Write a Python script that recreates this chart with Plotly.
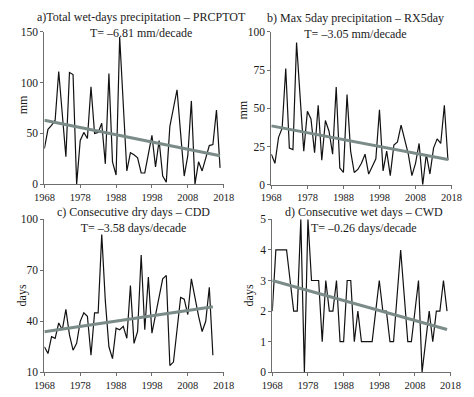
import plotly.graph_objects as go

# ---------------- data ----------------
years_50 = list(range(1968, 2018))   # 1968-2017
years_48 = list(range(1968, 2016))   # 1968-2015

prcptot = [35, 54, 58, 63, 111, 70, 27, 110, 108, 0,
           43, 51, 45, 96, 50, 51, 60, 20, 109, 22,
           9, 145, 75, 13, 31, 29, 26, 11, 11, 28,
           48, 17, 43, 8, 2, 57, 75, 93, 50, 8,
           28, 82, 0, 22, 13, 27, 38, 39, 73, 16]

rx5day = [20, 14, 31, 37, 76, 24, 23, 93, 57, 22,
          48, 43, 21, 52, 16, 42, 35, 20, 64, 11,
          8, 59, 22, 8, 10, 14, 20, 7, 12, 17,
          49, 9, 22, 6, 26, 28, 39, 30, 20, 6,
          14, 27, 0, 20, 7, 24, 30, 27, 52, 16]

cdd = [25, 21, 31, 30, 39, 35, 47, 32, 23, 27,
       40, 45, 43, 20, 45, 45, 91, 52, 25, 18,
       36, 35, 37, 30, 61, 27, 34, 79, 35, 66,
       33, 44, 54, 65, 67, 14, 16, 34, 54, 53,
       44, 65, 53, 43, 34, 40, 60, 20]

cwd = [2, 4, 4, 4, 4, 3, 2, 2, 5, 0,
       5, 3, 3, 3, 1, 3, 2, 2, 3, 1,
       1, 3, 3, 1, 2, 1, 1, 1, 1, 2,
       3, 2, 2, 1, 1, 2.5, 4, 2.5, 1, 1,
       2, 3, 0, 1, 2, 1, 2, 2, 3, 2]

trend_years_50 = [1968, 2017]
trend_years_48 = [1968, 2015]
trend_prcptot = [63, 28]
trend_rx5day = [38.5, 16.5]
trend_cdd = [33.8, 48.6]
trend_cwd = [3.0, 1.4]

titles = ["a)Total wet-days precipitation \u2013 PRCPTOT<br>T= \u20136.81 mm/decade",
          "b) Max 5day precipitation \u2013 RX5day<br>T= \u20133.05 mm/decade",
          "c) Consecutive dry days \u2013 CDD<br>T= \u20133.58 days/decade",
          "d) Consecutive wet days \u2013 CWD<br>T= \u20130.26 days/decade"]
ylabels = ["mm", "mm", "days", "days"]
xticks = [1968, 1978, 1988, 1998, 2008, 2018]
yticks_a = [0, 50, 100, 150]
yticks_b = [0, 25, 50, 75, 100]
yticks_c = [10, 40, 70, 100]
yticks_d = [0, 1, 2, 3, 4, 5]

# ---------------- layout geometry (pixels of the 474x397 window) --------
W, H = 474, 397
FONT = "Liberation Serif"
TXT = "#1a1a1a"
AX = "#6e6e6e"
TREND = "#7b8c88"


def fx(px):
    return px / W


def fy(py):
    return 1 - py / H


panels = [
    dict(x=years_50, y=prcptot, tx=trend_years_50, ty=trend_prcptot,
         px=(35, 223), py=(26.7, 183.7), yr=[0, 150], yt=yticks_a,
         title_xy=(137, 20), ylab_xy=(12, 102)),
    dict(x=years_50, y=rx5day, tx=trend_years_50, ty=trend_rx5day,
         px=(273, 462), py=(26.7, 184.3), yr=[0, 100], yt=yticks_b,
         title_xy=(361, 21), ylab_xy=(243, 107)),
    dict(x=years_48, y=cdd, tx=trend_years_48, ty=trend_cdd,
         px=(35, 223), py=(220, 377.7), yr=[10, 100], yt=yticks_c,
         title_xy=(128, 221), ylab_xy=(12, 298)),
    dict(x=years_50, y=cwd, tx=trend_years_50, ty=trend_cwd,
         px=(274, 461), py=(220, 377.7), yr=[0, 5], yt=yticks_d,
         title_xy=(370, 221), ylab_xy=(250, 298)),
]

fig = go.Figure()
annotations = []
for i, p in enumerate(panels):
    n = "" if i == 0 else str(i + 1)
    xa, ya = "x" + n, "y" + n
    fig.add_trace(go.Scatter(x=p["x"], y=p["y"], mode="lines",
                             line=dict(color="#111111", width=1.2),
                             xaxis=xa, yaxis=ya, showlegend=False,
                             hoverinfo="skip"))
    fig.add_trace(go.Scatter(x=p["tx"], y=p["ty"], mode="lines",
                             line=dict(color=TREND, width=3),
                             xaxis=xa, yaxis=ya, showlegend=False,
                             hoverinfo="skip"))
    axcommon = dict(showgrid=False, zeroline=False, showline=True,
                    linecolor=AX, linewidth=1, ticks="outside",
                    ticklen=3, tickcolor=AX, tickwidth=1)
    fig.update_layout(**{
        "xaxis" + n: dict(domain=[fx(p["px"][0]), fx(p["px"][1])],
                          range=[1968, 2018], tickvals=xticks,
                          anchor=ya,
                          tickfont=dict(family=FONT, size=10.5, color=TXT),
                          **axcommon),
        "yaxis" + n: dict(domain=[fy(p["py"][1]), fy(p["py"][0])],
                          range=p["yr"], tickvals=p["yt"],
                          anchor=xa,
                          tickfont=dict(family=FONT, size=11.5, color=TXT),
                          **axcommon),
    })
    tx, ty = p["title_xy"]
    annotations.append(dict(text=titles[i], x=fx(tx), y=fy(ty),
                            xref="paper", yref="paper", showarrow=False,
                            xanchor="center", yanchor="middle",
                            align="center",
                            font=dict(family=FONT, size=12, color=TXT)))
    lx, ly = p["ylab_xy"]
    annotations.append(dict(text=ylabels[i], x=fx(lx), y=fy(ly),
                            xref="paper", yref="paper", showarrow=False,
                            xanchor="center", yanchor="middle",
                            textangle=-90,
                            font=dict(family=FONT, size=12, color=TXT)))

fig.update_layout(width=W, height=H, margin=dict(l=0, r=0, t=0, b=0),
                  paper_bgcolor="white", plot_bgcolor="white",
                  annotations=annotations)

# remove the page's default 8px body margin so the figure fills the window
fig.write_html("out.html",
               config={"displayModeBar": False},
               post_script="document.body.style.margin='0';"
                           "document.body.style.overflow='hidden';")
